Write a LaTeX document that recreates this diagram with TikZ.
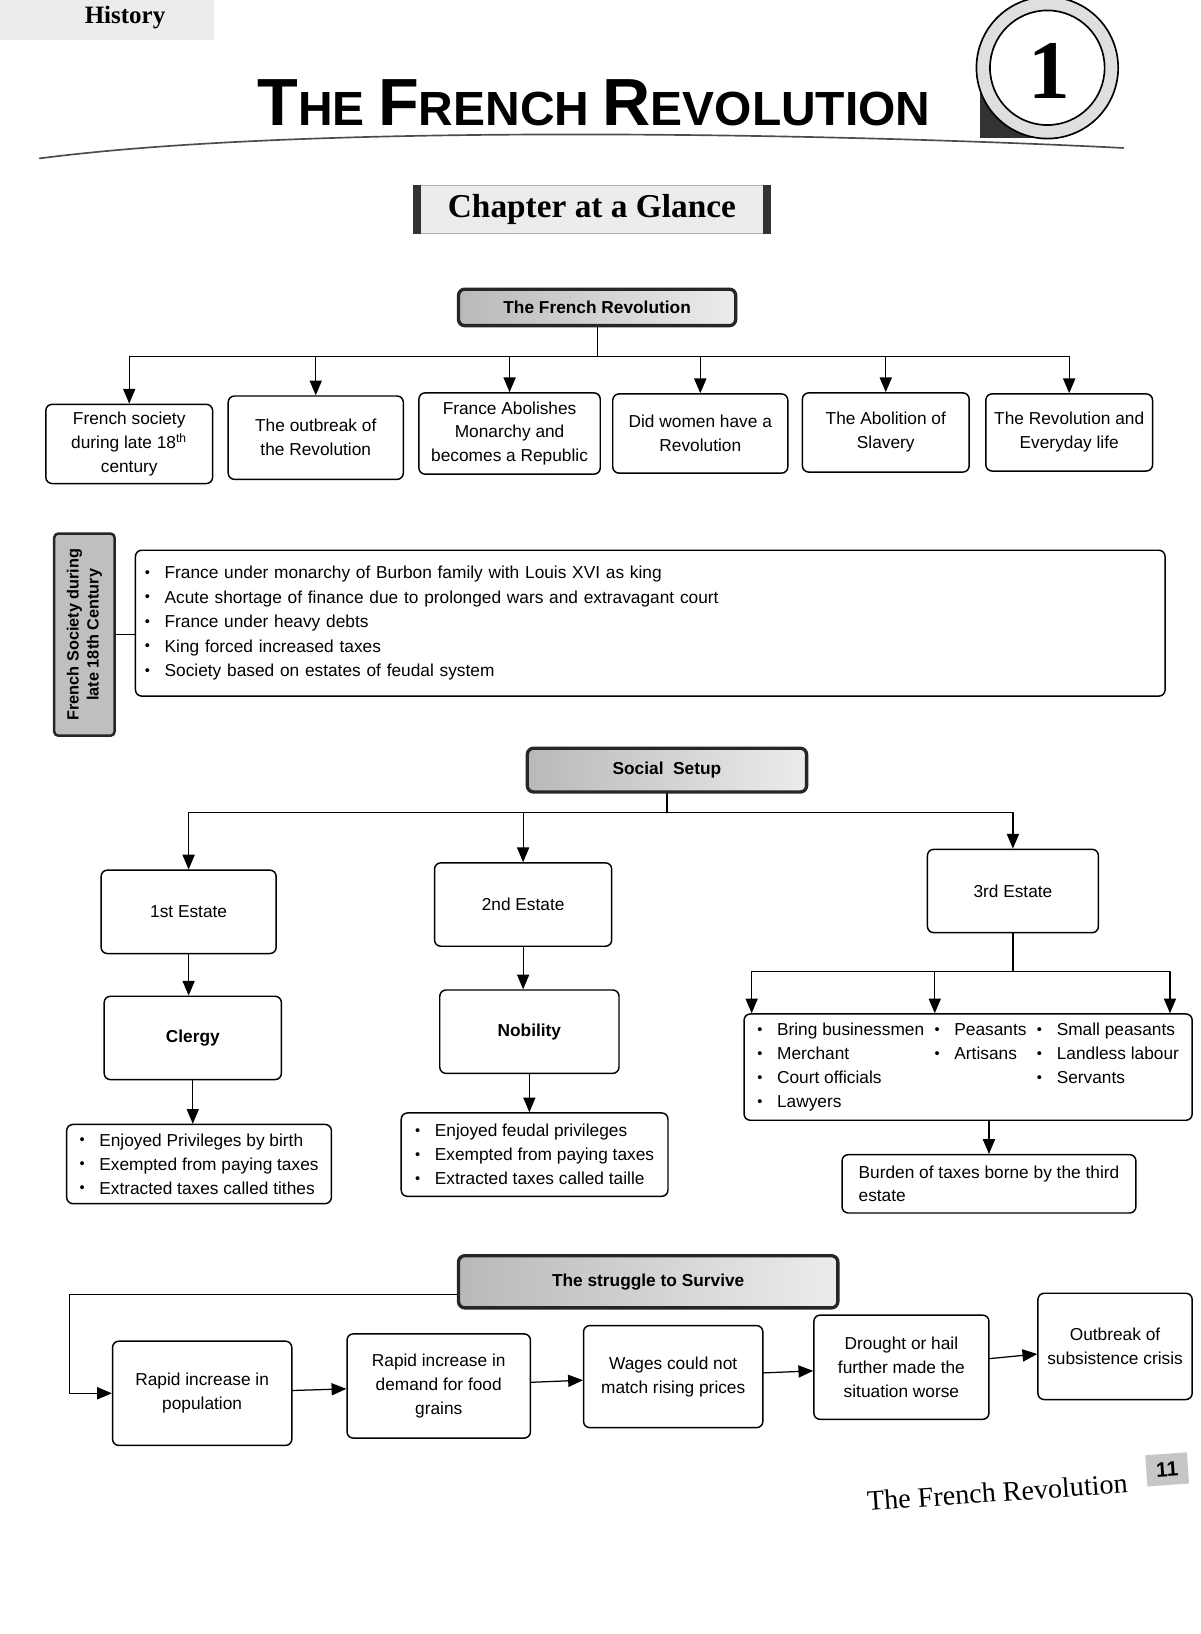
\documentclass[tikz,border=0pt]{standalone}
\usepackage{fontspec}
\setmainfont{Liberation Serif}
\setsansfont{Liberation Sans}
\usetikzlibrary{arrows}
\newcommand{\dgfont}{\sffamily\fontsize{8.3}{11.5}\selectfont}
\newcommand{\blt}{\makebox[9.5pt][l]{\raisebox{0.6pt}{\scriptsize\textbullet}}}
\newcommand{\titlecap}[1]{{\fontsize{32}{32}\selectfont #1}}

\begin{document}
\begin{tikzpicture}[x=0.5pt,y=-0.5pt,line cap=round,line join=round,>=triangle 45]
\tikzset{
    box/.style=      {draw, rounded corners=3pt, line width=0.7pt, align=center, font=\dgfont, inner sep=2pt},
    headbox/.style=  {draw=black!85, rounded corners=3pt, line width=1.6pt, left color=gray!55, right color=gray!15, font=\dgfont\bfseries},
    listbox/.style=  {draw, rounded corners=3pt, line width=0.7pt, align=left, font=\dgfont, inner sep=3pt},
    link/.style=     {line width=0.6pt}
}
\useasboundingbox (0,0) rectangle (1152,1568);

%% Page head
\fill[gray!15] (0,0) rectangle (205,38);
\node[font=\rmfamily\bfseries\fontsize{12}{12}\selectfont] (subject) at (120,17) {History};
\node[anchor=base, font=\sffamily\bfseries\fontsize{23}{23}\selectfont] (title) at (570,120)
  {\titlecap{T}HE \titlecap{F}RENCH \titlecap{R}EVOLUTION};
\fill[black!80] (940,62) rectangle (1000,132);
\draw[line width=0.8pt, fill=gray!25] (1005,65) circle (68);
\draw[line width=0.8pt, fill=white] (1005,65) circle (55);
\node[font=\rmfamily\bfseries\fontsize{40}{40}\selectfont] (chapno) at (1007,68) {1};
\draw[gray!60!black, line width=0.8pt] (38,152) .. controls (300,118) and (800,128) .. (1078,142);

\node[draw=gray!60, fill=gray!15, minimum width=171pt, minimum height=23pt,
  font=\rmfamily\bfseries\fontsize{16}{16}\selectfont] (glance) at (568,201) {Chapter at a Glance};
\fill[black!80] (glance.south west) rectangle ([xshift=3.5pt]glance.north west);
\fill[black!80] (glance.south east) rectangle ([xshift=-3.5pt]glance.north east);

%% Topics of the chapter
\node[headbox, minimum width=133pt, minimum height=17.5pt] (root) at (573,295) {The French Revolution};
\node[box, minimum width=80pt, minimum height=38pt] (fsoc) at (124,426) {French society\\during late 18\textsuperscript{th}\\century};
\node[box, minimum width=84pt, minimum height=40pt] (outb) at (303,420) {The outbreak of\\the Revolution};
\node[box, minimum width=87pt, minimum height=39pt] (abol) at (489,416) {France Abolishes\\Monarchy and\\becomes a Republic};
\node[box, minimum width=84pt, minimum height=38pt] (women) at (672,416) {Did women have a\\Revolution};
\node[box, minimum width=80pt, minimum height=38pt] (slave) at (850,415) {The Abolition of\\Slavery};
\node[box, minimum width=80pt, minimum height=37pt] (daily) at (1026,415) {The Revolution and\\Everyday life};
\coordinate (bus1) at (575,342);
\draw[link] (root.south) -- (root.south |- bus1);
\foreach \n in {fsoc,outb,abol,women,slave,daily}
  \draw[link,->] (root.south |- bus1) -| (\n.north);

%% French society
\node[draw=black!85, line width=1.2pt, fill=gray!50, rounded corners=2pt, rotate=90,
  minimum width=97pt, minimum height=29pt, align=center, inner sep=1pt,
  font=\sffamily\bfseries\fontsize{7.8}{9.5}\selectfont] (side) at (81,609) {French Society during\\late 18th Century};
\node[listbox, minimum width=494pt, minimum height=70pt, text width=485pt, font=\sffamily\fontsize{8.3}{11.8}\selectfont] (intro) at (624,598)
  {\blt France under monarchy of Burbon family with Louis XVI as king\\
   \blt Acute shortage of finance due to prolonged wars and extravagant court\\
   \blt France under heavy debts\\
   \blt King forced increased taxes\\
   \blt Society based on estates of feudal system};
\draw[link] (side.south) -- (side.south -| intro.west);

%% Social setup
\node[headbox, minimum width=134pt, minimum height=21pt] (setup) at (640,739) {Social\ \ Setup};
\node[box, minimum width=84pt, minimum height=40pt] (est1) at (181,875) {1st Estate};
\node[box, minimum width=85pt, minimum height=40pt] (est2) at (502,868) {2nd Estate};
\node[box, minimum width=82pt, minimum height=40pt] (est3) at (972,855) {3rd Estate};
\coordinate (bus2) at (643,780);
\draw[link] (setup.south) -- (setup.south |- bus2);
\foreach \n in {est1,est2,est3}
  \draw[link,->] (setup.south |- bus2) -| (\n.north);

\node[box, font=\dgfont\bfseries, minimum width=85pt, minimum height=40pt] (clergy) at (185,996) {Clergy};
\node[box, font=\dgfont\bfseries, minimum width=86pt, minimum height=40pt] (noble) at (508,990) {Nobility};
\draw[link,->] (est1.south) -- (est1.south |- clergy.north);
\draw[link,->] (est2.south) -- (est2.south |- noble.north);

\node[listbox, minimum width=127pt, minimum height=38pt] (clergyl) at (191,1117)
  {\blt Enjoyed Privileges by birth\\ \blt Exempted from paying taxes\\ \blt Extracted taxes called tithes};
\node[listbox, minimum width=128pt, minimum height=40pt] (noblel) at (513,1108)
  {\blt Enjoyed feudal privileges\\ \blt Exempted from paying taxes\\ \blt Extracted taxes called taille};
\draw[link,->] (clergy.south) -- (clergy.south |- clergyl.north);
\draw[link,->] (noble.south) -- (noble.south |- noblel.north);

\node[listbox, minimum width=215pt, minimum height=51pt, inner sep=2pt] (thirdl) at (929,1024)
  {\begin{tabular}{@{}l@{\hspace{5pt}}l@{\hspace{5pt}}l@{}}
   \blt Bring businessmen & \blt Peasants & \blt Small peasants\\
   \blt Merchant & \blt Artisans & \blt Landless labour\\
   \blt Court officials & & \blt Servants\\
   \blt Lawyers & &
   \end{tabular}};
\coordinate (bus3) at (975,932);
\draw[link] (est3.south) -- (est3.south |- bus3);
\draw[link,->] (est3.south |- bus3) -| ([xshift=4pt]thirdl.north west);
\draw[link,->] (est3.south |- bus3) -| ([xshift=-16pt]thirdl.north);
\draw[link,->] (est3.south |- bus3) -| ([xshift=-11pt]thirdl.north east);

\node[listbox, minimum width=141pt, minimum height=28pt] (burden) at (949,1136)
  {Burden of taxes borne by the third\\estate};
\draw[link,->] (burden.north |- thirdl.south) -- (burden.north);

%% Struggle to survive
\node[headbox, minimum width=182pt, minimum height=25pt] (survive) at (622,1230) {The struggle to Survive};
\node[box, minimum width=86pt, minimum height=50pt] (pop) at (194,1337) {Rapid increase in\\population};
\node[box, minimum width=88pt, minimum height=50pt] (food) at (421,1330) {Rapid increase in\\demand for food\\grains};
\node[box, minimum width=86pt, minimum height=49pt] (wage) at (646,1321) {Wages could not\\match rising prices};
\node[box, minimum width=84pt, minimum height=50pt] (drought) at (865,1312) {Drought or hail\\further made the\\situation worse};
\node[box, minimum width=74pt, minimum height=51pt] (crisis) at (1070,1292) {Outbreak of\\subsistence crisis};
\draw[link,->] ([yshift=-6pt]survive.west) -- ++(-372,0) |- (pop.west);
\draw[link,->] (pop) -- (food);
\draw[link,->] (food) -- (wage);
\draw[link,->] (wage) -- (drought);
\draw[link,->] (drought) -- (crisis);

%% Page foot
\node[rotate=4, font=\rmfamily\fontsize{13.5}{13.5}\selectfont] (foot) at (957,1432) {The French Revolution};
\node[fill=gray!45, rotate=4, minimum width=20pt, minimum height=15pt, inner sep=1pt,
  font=\sffamily\bfseries\fontsize{10}{10}\selectfont] (pageno) at (1120,1410) {11};

\end{tikzpicture}
\end{document}
